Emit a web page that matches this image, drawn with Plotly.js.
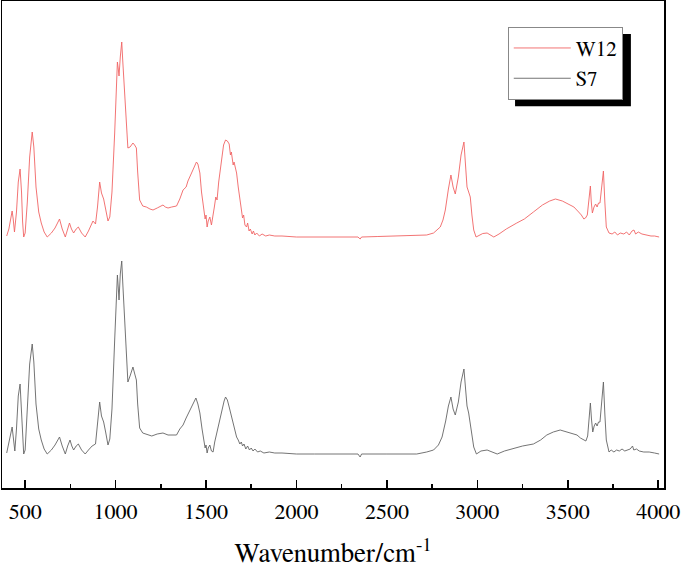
<!DOCTYPE html>
<html>
<head>
<meta charset="utf-8">
<script src="https://cdn.plot.ly/plotly-3.0.1.min.js"></script>
<style>html,body{margin:0;padding:0;background:#fff;}#chart{width:685px;height:570px;}</style>
</head>
<body>
<div id="chart"></div>
<script>
// Wavenumbers (cm-1) and absorbance heights (arbitrary units)
const w12_wn = [398,410,420,428,434,441,452,462,472,480,486,492,500,512,525,539,548,560,575,589,605,622,645,665,690,705,722,735,745,756,768,782,794,812,832,850,865,875,889,900,912,922,934,945,958,968,980,995,1003,1010,1015,1019,1026,1034,1040,1048,1056,1068,1080,1096,1105,1115,1122,1133,1150,1170,1190,1207,1230,1250,1262,1275,1290,1310,1337,1355,1373,1390,1400,1420,1435,1447,1455,1466,1475,1488,1495,1500,1506,1512,1521,1530,1539,1546,1554,1561,1570,1586,1597,1608,1618,1628,1635,1640,1650,1655,1669,1678,1687,1695,1702,1708,1715,1724,1730,1738,1745,1755,1762,1770,1780,1795,1810,1830,1850,1880,1920,2000,2100,2200,2300,2340,2352,2360,2450,2550,2650,2720,2758,2795,2810,2823,2840,2854,2866,2878,2895,2910,2926,2935,2943,2952,2961,2970,2980,2993,3010,3030,3054,3075,3091,3120,3160,3218,3260,3310,3360,3400,3432,3470,3500,3534,3560,3575,3589,3598,3608,3617,3625,3630,3636,3645,3654,3662,3670,3678,3688,3697,3705,3713,3728,3745,3760,3775,3790,3810,3825,3840,3855,3866,3875,3890,3910,3930,3960,3980,4005];
const w12_abs = [1,8,18,26,18,5,25,55,68,45,15,0,4,35,80,105,90,50,25,14,5,0,4,9,18,8,0,8,14,8,4,8,10,4,0,6,12,16,13,30,55,44,38,28,16,20,45,104,150,175,168,161,180,195,175,150,127,89,90,94,92,89,65,37,31,30,28,27,29,31,32,30,29,30,31,38,47,50,56,64,70,75,73,64,45,27,18,22,10,16,20,12,25,30,40,37,55,80,92,97,96,93,82,85,72,75,64,50,37,28,19,22,12,10,14,6,8,3,6,2,4,1,3,1,2,1,1,0,0,0,0,0,-2,0,0.5,1,1.5,2,4,10,17,27,48,62,50,43,60,82,95,75,50,45,40,22,7,0,2,3.5,4,2,0,3,8,14,18,25,32,36,38,36,33,30,25,22,18,19,22,35,51,35,24,30,33,30,34,34,50,66,35,10,4,3,5,2,4,3,5,2,6,7,3,5,3,2,1,1,0];

const s7_wn = [398,410,420,428,436,443,452,462,472,480,486,492,500,512,525,539,548,560,575,589,605,622,645,665,690,705,722,735,748,758,768,782,794,812,832,850,870,889,900,912,922,934,945,958,968,980,995,1003,1010,1015,1019,1026,1034,1040,1048,1056,1068,1080,1096,1106,1115,1122,1133,1150,1170,1200,1230,1262,1290,1320,1337,1355,1373,1390,1410,1430,1444,1455,1466,1478,1488,1495,1500,1506,1512,1521,1530,1539,1548,1561,1575,1586,1600,1608,1618,1628,1640,1650,1660,1669,1678,1687,1695,1702,1710,1720,1730,1740,1750,1760,1770,1785,1800,1820,1850,1880,1920,2000,2100,2200,2300,2340,2352,2360,2500,2665,2720,2758,2785,2805,2825,2840,2854,2866,2878,2895,2910,2926,2935,2943,2952,2965,2973,2980,2995,3020,3054,3080,3110,3150,3202,3250,3310,3350,3384,3420,3458,3500,3551,3570,3589,3600,3610,3618,3625,3631,3638,3646,3654,3662,3670,3678,3688,3697,3705,3713,3728,3740,3755,3770,3785,3800,3815,3830,3845,3858,3865,3880,3895,3920,3950,3980,4005];
const s7_abs = [1,10,20,27,15,3,25,58,70,40,12,0,4,40,90,110,92,50,25,14,5,0,4,9,17,8,0,8,14,8,4,8,10,4,0,4,8,10,30,52,38,32,22,9,15,45,114,160,179,166,154,180,193,170,140,114,72,78,87,80,74,50,26,21,20,18,20,21,19,19,19,25,29,36,44,52,56,50,41,25,14,6,9,1,6,9,3,2,12,22,35,41,53,57,54,47,38,32,25,17,14,10,12,8,10,5,8,4,6,3,5,2,3,1,2,1,1,0,0,0,0,0,-3,0,0,0,2,4,9,17,33,48,57,45,39,52,72,85,65,48,41,27,15,7,0,3,4,2,0,3,6,8,10,14,19,22,24,22,19,16,14,13,18,35,51,35,22,28,31,28,32,32,55,72,40,14,2,4,2,4,3,5,3,4,5,8,4,5,3,2,2,1,0];

const seriesNames = ['W12', 'S7'];
const stackOffsets = [251, 34]; // vertical offset used to stack the spectra
const xTicks = [500,1000,1500,2000,2500,3000,3500,4000];

const serif = 'FreeSerif';

const traces = [
  {x: w12_wn, y: w12_abs.map(v => v + stackOffsets[0]), name: seriesNames[0], type: 'scatter', mode: 'lines',
   line: {color: 'rgb(240,100,100)', width: 0.9}},
  {x: s7_wn, y: s7_abs.map(v => v + stackOffsets[1]), name: seriesNames[1], type: 'scatter', mode: 'lines',
   line: {color: 'rgb(100,100,100)', width: 0.9}}
];

const layout = {
  width: 685, height: 570,
  margin: {l: 2, r: 21, t: 1, b: 82},
  paper_bgcolor: '#fff', plot_bgcolor: '#fff',
  showlegend: true,
  font: {family: serif},
  xaxis: {
    range: [372, 4032], tickvals: xTicks, ticktext: xTicks.map(String),
    ticks: 'inside', ticklen: 8, tickwidth: 1.5, tickcolor: '#000',
    minor: {dtick: 250, tick0: 0, ticks: 'inside', ticklen: 4, tickwidth: 1.5, tickcolor: '#000', showgrid: false},
    showline: true, mirror: true, linecolor: '#000', linewidth: 1.5,
    showgrid: false, zeroline: false,
    ticklabelstandoff: 3,
    tickfont: {family: serif, size: 22, color: '#000'},
    title: {text: 'Wavenumber/cm<sup>-1</sup>', font: {family: serif, size: 27, color: '#000'}, standoff: 21}
  },
  yaxis: {
    range: [0, 487], showticklabels: false, ticks: '',
    showline: true, mirror: true, linecolor: '#000', linewidth: 1.5,
    showgrid: false, zeroline: false
  },
  legend: {
    x: 0.764, y: 0.947, xanchor: 'left', yanchor: 'top',
    bgcolor: '#fff', bordercolor: '#888', borderwidth: 1,
    font: {family: serif, size: 21, color: '#000'},
    itemwidth: 57, tracegroupgap: 0
  },
  shapes: [
    {type: 'rect', xref: 'paper', yref: 'paper', x0: 0.775, x1: 0.950, y0: 0.784, y1: 0.932,
     fillcolor: '#000', line: {width: 0}, layer: 'above'}
  ]
};

Plotly.newPlot('chart', traces, layout, {displayModeBar: false, staticPlot: true});
</script>
</body>
</html>
